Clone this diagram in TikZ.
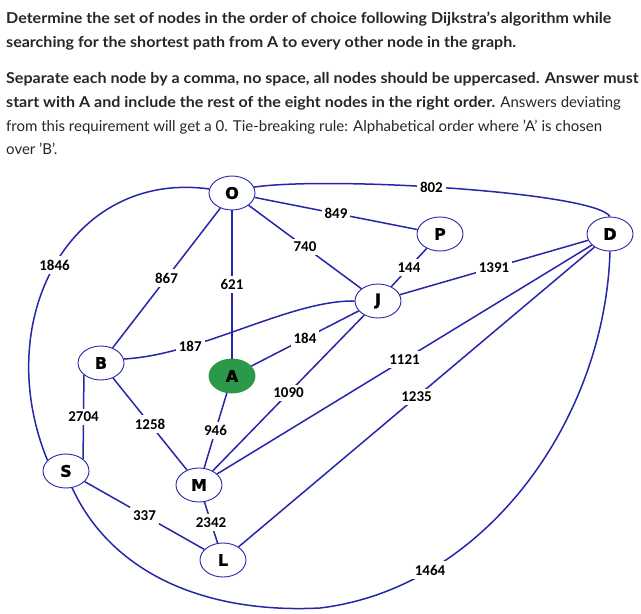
\documentclass[tikz,border=0pt]{standalone}
\usepackage{fontspec}
\setmainfont{Lato}[BoldFeatures={FakeStretch=1.07}]
\newfontfamily\numfont{Carlito}
\newfontfamily\letterfont{DejaVu Sans}[BoldFeatures={FakeBold=1.2}]
\usetikzlibrary{shapes.geometric}
\definecolor{edgeblue}{RGB}{38,38,168}
\definecolor{startgreen}{RGB}{44,152,74}

\begin{document}
\begin{tikzpicture}[x=1pt,y=-1pt,
  vertex/.style={ellipse,draw=edgeblue,line width=0.9pt,fill=white,
    minimum width=46pt,minimum height=34pt,inner sep=0pt,
    font=\letterfont\bfseries\fontsize{16}{16}\selectfont},
  link/.style={draw=edgeblue,line width=1.5pt},
  wt/.style={fill=white,inner xsep=3pt,inner ysep=3.5pt,font=\numfont\bfseries\fontsize{15}{15}\selectfont},
  qline/.style={anchor=base west,inner sep=0pt,text=black!85,font=\fontsize{15}{18}\selectfont}]
\useasboundingbox (0,0) rectangle (641,614);

\node[qline] (q1) at (6,23) {\textbf{Determine the set of nodes in the order of choice following Dijkstra's algorithm while}};
\node[qline] (q2) at (6,47) {\textbf{searching for the shortest path from A to every other node in the graph.}};
\node[qline] (q3) at (6,83) {\textbf{Separate each node by a comma, no space, all nodes should be uppercased. Answer must}};
\node[qline] (q4) at (6,107) {\textbf{start with A and include the rest of the eight nodes in the right order.} Answers deviating};
\node[qline] (q5) at (6,131) {from this requirement will get a 0. Tie-breaking rule: Alphabetical order where 'A' is chosen};
\node[qline] (q6) at (6,154) {over 'B'.};

\node[vertex] (O) at (232,193) {O};
\node[vertex] (P) at (440,234) {P};
\node[vertex] (D) at (610,234) {D};
\node[vertex] (J) at (378,301) {J};
\node[vertex] (B) at (101,363) {B};
\node[vertex,fill=startgreen,draw=startgreen] (A) at (232,376) {A};
\node[vertex] (S) at (66,471) {S};
\node[vertex] (M) at (199,485) {M};
\node[vertex] (L) at (223,560) {L};

\draw[link] (O.15) .. controls (330,176) and (595,192) .. node[wt,pos=.45] {802} (D.north);
\draw[link] (O.170) .. controls (70,170) and (-10,320) .. node[wt,pos=.5] {1846} (S.150);
\draw[link] (O) -- node[wt,pos=.5] {849} (P);
\draw[link] (O) -- node[wt,pos=.5] {740} (J);
\draw[link] (O) -- node[wt,pos=.5] {621} (A);
\draw[link] (O) -- node[wt,pos=.5] {867} (B);
\draw[link] (P) -- node[wt,pos=.5] {144} (J);
\draw[link] (J) -- node[wt,pos=.5] {1391} (D);
\draw[link] (B.10) .. controls (200,355) and (290,300) .. node[wt,pos=.28] {187} (J.west);
\draw[link] (J) -- node[wt,pos=.5] {184} (A);
\draw[link] (J) -- node[wt,pos=.5] {1090} (M);
\draw[link] (D) -- node[wt,pos=.5] {1121} (M);
\draw[link] (D) -- node[wt,pos=.5] {1235} (L);
\draw[link] (D.south) .. controls (605,420) and (485,588) .. node[wt,pos=.76] {1464} (320,608)
  .. controls (200,614) and (110,570) .. (S.290);
\draw[link] (A) -- node[wt,pos=.5] {946} (M);
\draw[link] (B.215) -- node[wt,pos=.5] {2704} (S.35);
\draw[link] (B) -- node[wt,pos=.5] {1258} (M);
\draw[link] (S) -- node[wt,pos=.5] {337} (L);
\draw[link] (M) -- node[wt,pos=.5] {2342} (L);
\end{tikzpicture}
\end{document}
